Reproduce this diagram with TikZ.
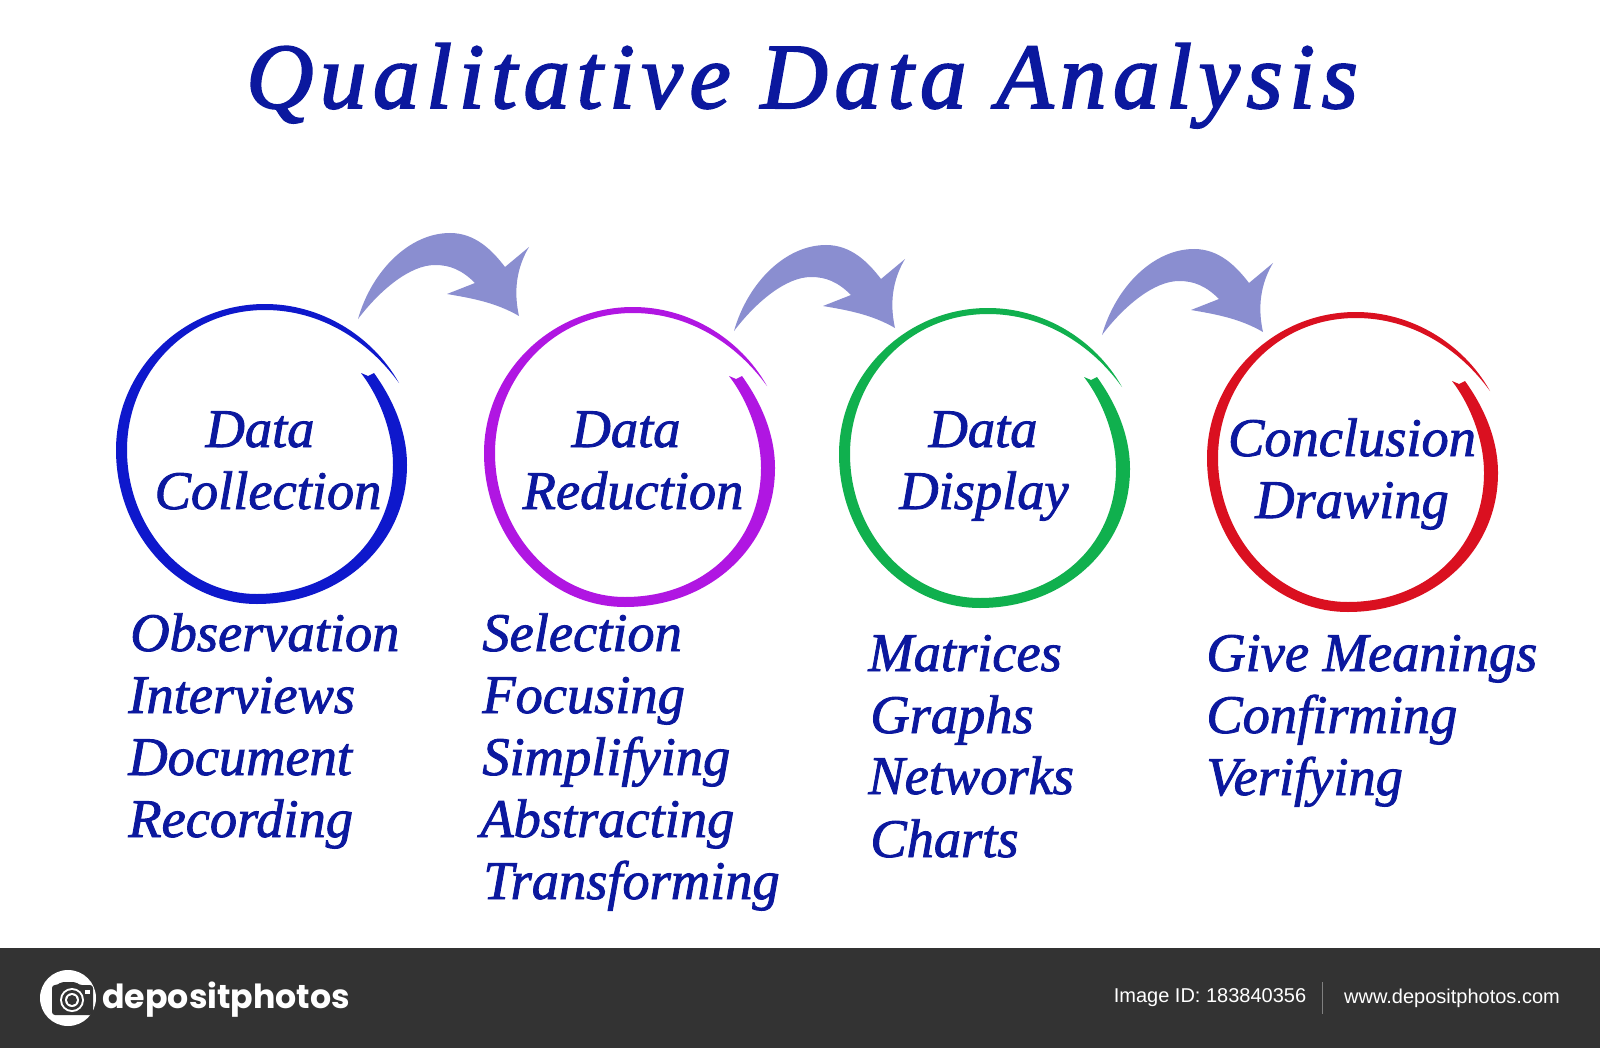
\documentclass[tikz,border=0pt]{standalone}
\usepackage{fontspec}
\setmainfont{Liberation Serif}[ItalicFeatures={FakeBold=1.6}]
\newfontfamily\titlefont{Liberation Serif}[LetterSpace=7,ItalicFeatures={FakeBold=2}]
\newfontfamily\footfont{Liberation Sans}
\newfontfamily\logofont{Poppins}
\definecolor{inkblue}{HTML}{0B189E}
\definecolor{ringblue}{HTML}{0E18CC}
\definecolor{ringpurple}{HTML}{B016E2}
\definecolor{ringgreen}{HTML}{10B04E}
\definecolor{ringred}{HTML}{DA1020}
\definecolor{arrowblue}{HTML}{8A8ED0}
\definecolor{footgrey}{HTML}{333333}
\tikzset{
  ringlabel/.style={anchor=base,inner sep=0pt,text=inkblue,font=\fontsize{27.2}{27.2}\selectfont\itshape},
  listitem/.style={anchor=base west,inner sep=0pt,text=inkblue,font=\fontsize{27.2}{27.2}\selectfont\itshape},
  pics/brushring/.style={code={
    \fill[#1] (399,383) .. controls (372,335) and (320,304) .. (265,304)
      .. controls (183,304) and (116,370) .. (116,450)
      .. controls (116,535) and (180,604) .. (257,604)
      .. controls (340,604) and (407,545) .. (407,465)
      .. controls (407,430) and (392,398) .. (374,373)
      -- (368,376) -- (361,373)
      .. controls (378,395) and (393,430) .. (393,465)
      .. controls (393,540) and (335,594) .. (257,594)
      .. controls (185,594) and (127,528) .. (127,450)
      .. controls (127,375) and (185,310) .. (265,310)
      .. controls (320,310) and (368,340) .. (399,383) -- cycle;
  }},
  pics/bentarrow/.style={code={
    \fill[arrowblue] (358,319) .. controls (372,270) and (410,233) .. (450,233)
      .. controls (475,233) and (492,250) .. (505,267)
      -- (529,247) .. controls (520,262) and (512,285) .. (519,316)
      .. controls (495,302) and (470,298) .. (447,294)
      -- (475,283) .. controls (462,270) and (450,265) .. (435,265)
      .. controls (410,265) and (380,290) .. (358,319) -- cycle;
  }}
}
\begin{document}
\begin{tikzpicture}[x=0.5pt,y=-0.5pt]
\useasboundingbox (0,0) rectangle (1600,1048);
\fill[white] (0,0) rectangle (1600,1048);
% title
\node (title) at (802,108) [anchor=base,inner sep=0pt,text=inkblue,font=\fontsize{46.6}{46.6}\titlefont\itshape] {Qualitative Data Analysis};
% rings and arrows
\pic at (0,0) {brushring=ringblue};
\pic at (368,3) {brushring=ringpurple};
\pic at (723,4) {brushring=ringgreen};
\pic at (1091,8) {brushring=ringred};
\pic at (0,0) {bentarrow};
\pic at (376,12) {bentarrow};
\pic at (744,16) {bentarrow};
% ring labels
\node (data1) at (260,447) [ringlabel] {Data};
\node (collection) at (268,509) [ringlabel] {Collection};
\node (data2) at (626,447) [ringlabel] {Data};
\node (reduction) at (633,509) [ringlabel] {Reduction};
\node (data3) at (983,447) [ringlabel] {Data};
\node (display) at (984,509) [ringlabel] {Display};
\node (conclusion) at (1352,456) [ringlabel] {Conclusion};
\node (drawing) at (1352,518) [ringlabel] {Drawing};
% lists
\node (obs) at (130,651) [listitem] {Observation};
\node (int) at (128,713) [listitem] {Interviews};
\node (doc) at (128,775) [listitem] {Document};
\node (rec) at (128,837) [listitem] {Recording};
\node (sel) at (482,651) [listitem] {Selection};
\node (foc) at (482,713) [listitem] {Focusing};
\node (sim) at (482,775) [listitem] {Simplifying};
\node (abs) at (480,837) [listitem] {Abstracting};
\node (tra) at (483,899) [listitem] {Transforming};
\node (mat) at (868,671) [listitem] {Matrices};
\node (gra) at (870,733) [listitem] {Graphs};
\node (net) at (868,794) [listitem] {Networks};
\node (cha) at (870,857) [listitem] {Charts};
\node (giv) at (1206,671) [listitem] {Give Meanings};
\node (con) at (1206,733) [listitem] {Confirming};
\node (ver) at (1206,795) [listitem] {Verifying};
% footer
\fill[footgrey] (0,948) rectangle (1600,1048);
\fill[white] (68,998) circle (28);
\fill[footgrey,rounded corners=1.5pt] (52,985) -- (58,985) -- (61,982) -- (76,982) -- (79,985) -- (93,985) -- (93,1015) -- (52,1015) -- cycle;
\fill[white] (72,1000) circle (12);
\fill[footgrey] (72,1000) circle (10);
\fill[white] (72,1000) circle (7);
\fill[footgrey] (72,1000) circle (5);
\fill[white] (85,990) rectangle (90,994);
\node (logo) at (102,1000) [anchor=west,inner sep=0pt,text=white,font=\fontsize{16.6}{16.6}\logofont\bfseries] {depositphotos};
\node (imgid) at (1210,998) [inner sep=0pt,text=white,font=\fontsize{10}{10}\footfont] {Image ID: 183840356};
\node (site) at (1452,998) [inner sep=0pt,text=white,font=\fontsize{10}{10}\footfont] {www.depositphotos.com};
\draw[gray,thin] (1322,982) -- (1322,1014);
\end{tikzpicture}
\end{document}
